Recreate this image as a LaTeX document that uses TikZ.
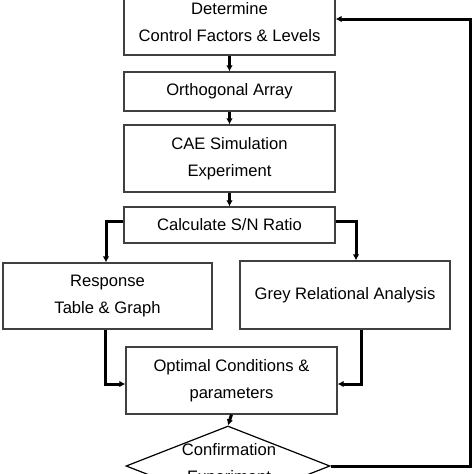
\documentclass[tikz,border=0pt]{standalone}
\usepackage{fontspec}
\setmainfont{Liberation Sans}
\usetikzlibrary{arrows.meta,shapes.geometric}
\begin{document}
\begin{tikzpicture}[x=1pt,y=-1pt,
  box/.style={draw=black!75,line width=1.2pt,inner sep=0pt,align=center,
    font=\fontsize{16.6}{27}\selectfont},
  arr/.style={line width=3pt,-{Latex[length=6pt,width=6.5pt]}},
  fb/.style={line width=3pt}]
\useasboundingbox[fill=white] (0,0) rectangle (474,474);
\clip (0,0) rectangle (474,474);
\node[box,minimum width=211,minimum height=65] (det) at (229.5,22.5) {Determine\\Control Factors \& Levels};
\node[box,minimum width=211,minimum height=39] (orth) at (229.5,91.5) {Orthogonal Array};
\node[box,minimum width=211,minimum height=67] (cae) at (229.5,158.5) {CAE Simulation\\Experiment};
\node[box,minimum width=211,minimum height=36] (calc) at (229.5,225) {Calculate S/N Ratio};
\node[box,minimum width=209,minimum height=66] (resp) at (107.5,296) {Response\\Table \& Graph};
\node[box,minimum width=210,minimum height=68] (grey) at (345,295) {Grey Relational Analysis};
\node[box,minimum width=211,minimum height=67] (opt) at (231.5,380.5) {Optimal Conditions \&\\parameters};
\node[draw=black,line width=1.2pt,diamond,inner sep=0pt,minimum width=204,minimum height=80] (conf) at (228,466) {};
\node[align=center,inner sep=0pt,font=\fontsize{16.6}{27}\selectfont] (conftext) at (229,464.5) {Confirmation\\Experiment};
\coordinate (fbc) at (470,466);
\draw[arr] (det.south) -- (orth.north);
\draw[arr] (orth.south) -- (cae.north);
\draw[arr] (cae.south) -- (calc.north);
\draw[arr] ([yshift=4]calc.west) -| ([xshift=-1.5]resp.north);
\draw[arr] ([yshift=4]calc.east) -| ([xshift=11]grey.north);
\draw[arr] ([xshift=-2.5]resp.south) |- ([yshift=-3.5]opt.west);
\draw[arr] ([xshift=16]grey.south) |- ([yshift=-3.5]opt.east);
\draw[arr] (opt.south) -- (conf.north);
\draw[arr] (conf.east) -- (fbc) |- ([yshift=3.5]det.east);
\end{tikzpicture}
\end{document}
